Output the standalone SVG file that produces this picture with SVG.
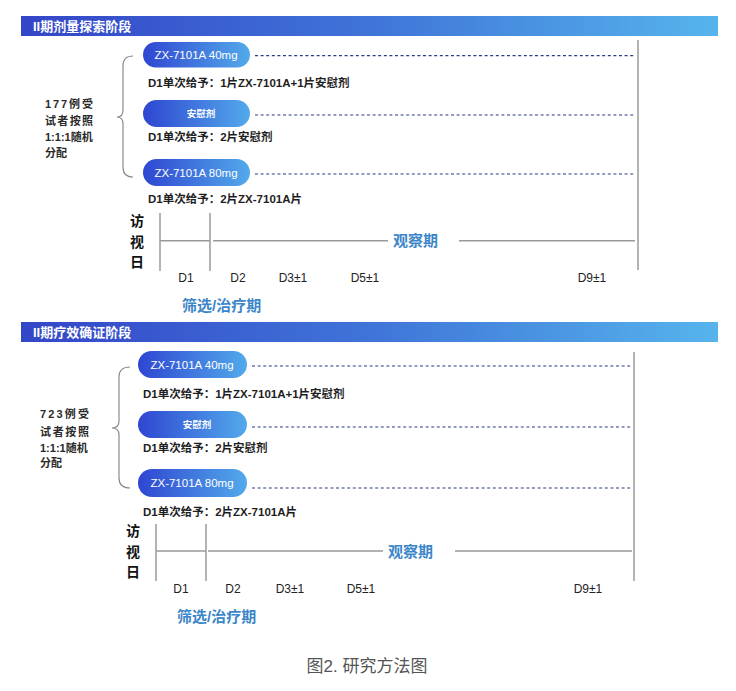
<svg xmlns="http://www.w3.org/2000/svg" width="736" height="691" viewBox="0 0 736 691">
<defs>
<linearGradient id="gBanner" x1="0" y1="0" x2="1" y2="0">
<stop offset="0" stop-color="#3446c8"/>
<stop offset="0.5" stop-color="#3f74d8"/>
<stop offset="1" stop-color="#56b4ec"/>
</linearGradient>
<linearGradient id="gPill" x1="0" y1="0" x2="1" y2="0">
<stop offset="0" stop-color="#2f46d2"/>
<stop offset="1" stop-color="#52aaeb"/>
</linearGradient>
<style>
text{font-family:"Liberation Sans","Noto Sans CJK SC",sans-serif;}
.bt{fill:#fff;font-size:13px;font-weight:700;}
.pt{fill:#fff;font-size:11.5px;text-anchor:middle;}
.ps{fill:#fff;font-size:9.5px;font-weight:700;text-anchor:middle;}
.dt{fill:#1e1e1e;font-size:11.5px;font-weight:700;}
.lt{fill:#2a2a2a;font-size:11px;font-weight:700;}
.vt{fill:#111;font-size:14px;font-weight:700;text-anchor:middle;}
.dy{fill:#222;font-size:12px;text-anchor:middle;}
.bl{fill:#3b86c9;font-size:15px;font-weight:700;}
.cap{fill:#555;font-size:17px;text-anchor:middle;}
.dot{stroke:#2b3c84;stroke-width:1.2;stroke-dasharray:3 2.6;fill:none;}
.tl{stroke:#9a9a9a;stroke-width:1.5;fill:none;}
.br{stroke:#8a8a8a;stroke-width:1.2;fill:none;}
</style>
</defs>
<rect width="736" height="691" fill="#fff"/>

<!-- Section 1 -->
<g id="banner1">
<rect x="21" y="16" width="697" height="20" fill="url(#gBanner)"/>
<text class="bt" x="33" y="31">II期剂量探索阶段</text>
</g>
<g id="group1">
<text class="lt" x="45" y="108" textLength="48" lengthAdjust="spacing">177例受</text>
<text class="lt" x="45" y="125" textLength="48" lengthAdjust="spacing">试者按照</text>
<text class="lt" x="45" y="141">1:1:1随机</text>
<text class="lt" x="45" y="157">分配</text>
</g>
<g id="s1-pill1">
<rect x="143" y="42" width="107" height="25.5" rx="12.75" fill="url(#gPill)"/>
<text class="pt" x="196" y="59">ZX-7101A 40mg</text>
<text class="dt" x="148" y="87">D1单次给予：1片ZX-7101A+1片安慰剂</text>
</g>
<g id="s1-pill2">
<rect x="143" y="100" width="107" height="27" rx="13.5" fill="url(#gPill)"/>
<text class="ps" x="201" y="117">安慰剂</text>
<text class="dt" x="148" y="141">D1单次给予：2片安慰剂</text>
</g>
<g id="s1-pill3">
<rect x="143" y="159" width="107" height="27" rx="13.5" fill="url(#gPill)"/>
<text class="pt" x="196" y="177">ZX-7101A 80mg</text>
<text class="dt" x="148" y="203">D1单次给予：2片ZX-7101A片</text>
</g>
<g id="s1-timeline">
<text class="vt" x="137" y="226">访</text>
<text class="vt" x="137" y="247">视</text>
<text class="vt" x="137" y="267">日</text>
<text class="dy" x="186" y="282">D1</text>
<text class="dy" x="238" y="282">D2</text>
<text class="dy" x="293" y="282">D3±1</text>
<text class="dy" x="365" y="282">D5±1</text>
<text class="dy" x="592" y="282">D9±1</text>
<text class="bl" x="393" y="246">观察期</text>
<text class="bl" x="182" y="311">筛选/治疗期</text>
</g>

<!-- Section 2 -->
<g id="banner2">
<rect x="21" y="322" width="697" height="20" fill="url(#gBanner)"/>
<text class="bt" x="33" y="337">II期疗效确证阶段</text>
</g>
<g id="group2">
<text class="lt" x="40" y="418" textLength="49" lengthAdjust="spacing">723例受</text>
<text class="lt" x="40" y="436" textLength="49" lengthAdjust="spacing">试者按照</text>
<text class="lt" x="40" y="452">1:1:1随机</text>
<text class="lt" x="40" y="467">分配</text>
</g>
<g id="s2-pill1">
<rect x="138" y="351" width="109" height="27" rx="13.5" fill="url(#gPill)"/>
<text class="pt" x="192" y="369">ZX-7101A 40mg</text>
<text class="dt" x="143" y="398">D1单次给予：1片ZX-7101A+1片安慰剂</text>
</g>
<g id="s2-pill2">
<rect x="138" y="411" width="109" height="27" rx="13.5" fill="url(#gPill)"/>
<text class="ps" x="197" y="428">安慰剂</text>
<text class="dt" x="143" y="452">D1单次给予：2片安慰剂</text>
</g>
<g id="s2-pill3">
<rect x="138" y="469" width="109" height="28" rx="14" fill="url(#gPill)"/>
<text class="pt" x="192" y="487">ZX-7101A 80mg</text>
<text class="dt" x="143" y="516">D1单次给予：2片ZX-7101A片</text>
</g>
<g id="s2-timeline">
<text class="vt" x="133" y="536">访</text>
<text class="vt" x="133" y="557">视</text>
<text class="vt" x="133" y="577">日</text>
<text class="dy" x="181" y="593">D1</text>
<text class="dy" x="233" y="593">D2</text>
<text class="dy" x="290" y="593">D3±1</text>
<text class="dy" x="361" y="593">D5±1</text>
<text class="dy" x="588" y="593">D9±1</text>
<text class="bl" x="388" y="557">观察期</text>
<text class="bl" x="177" y="622">筛选/治疗期</text>
</g>

<g id="connectors">
<path class="br" d="M133,56 Q123,56 123,66 L123,110 Q123,117 117,117 Q123,117 123,124 L123,167 Q123,177 133,177"/>
<line class="dot" x1="255" y1="55.7" x2="634" y2="55.7"/>
<line class="dot" x1="255" y1="115" x2="634" y2="115"/>
<line class="dot" x1="255" y1="174" x2="634" y2="174"/>
<line class="tl" x1="638" y1="40" x2="638" y2="270"/>
<line class="tl" x1="160" y1="213" x2="160" y2="271"/>
<line class="tl" x1="210" y1="213" x2="210" y2="271"/>
<line class="tl" x1="160" y1="240.7" x2="210" y2="240.7"/>
<line class="tl" x1="213" y1="240.7" x2="388" y2="240.7"/>
<line class="tl" x1="459" y1="240.7" x2="635" y2="240.7"/>

<path class="br" d="M130,367 Q119,367 119,377 L119,421 Q119,428 112,428 Q119,428 119,435 L119,478 Q119,488 130,488"/>
<line class="dot" x1="252" y1="366" x2="631" y2="366"/>
<line class="dot" x1="252" y1="427" x2="631" y2="427"/>
<line class="dot" x1="252" y1="488" x2="631" y2="488"/>
<line class="tl" x1="634" y1="352" x2="634" y2="581"/>
<line class="tl" x1="156" y1="524" x2="156" y2="581"/>
<line class="tl" x1="206" y1="524" x2="206" y2="581"/>
<line class="tl" x1="156" y1="551" x2="206" y2="551"/>
<line class="tl" x1="208" y1="551" x2="383" y2="551"/>
<line class="tl" x1="455" y1="551" x2="632" y2="551"/>
</g>

<text class="cap" x="367" y="672">图2. 研究方法图</text>
</svg>
